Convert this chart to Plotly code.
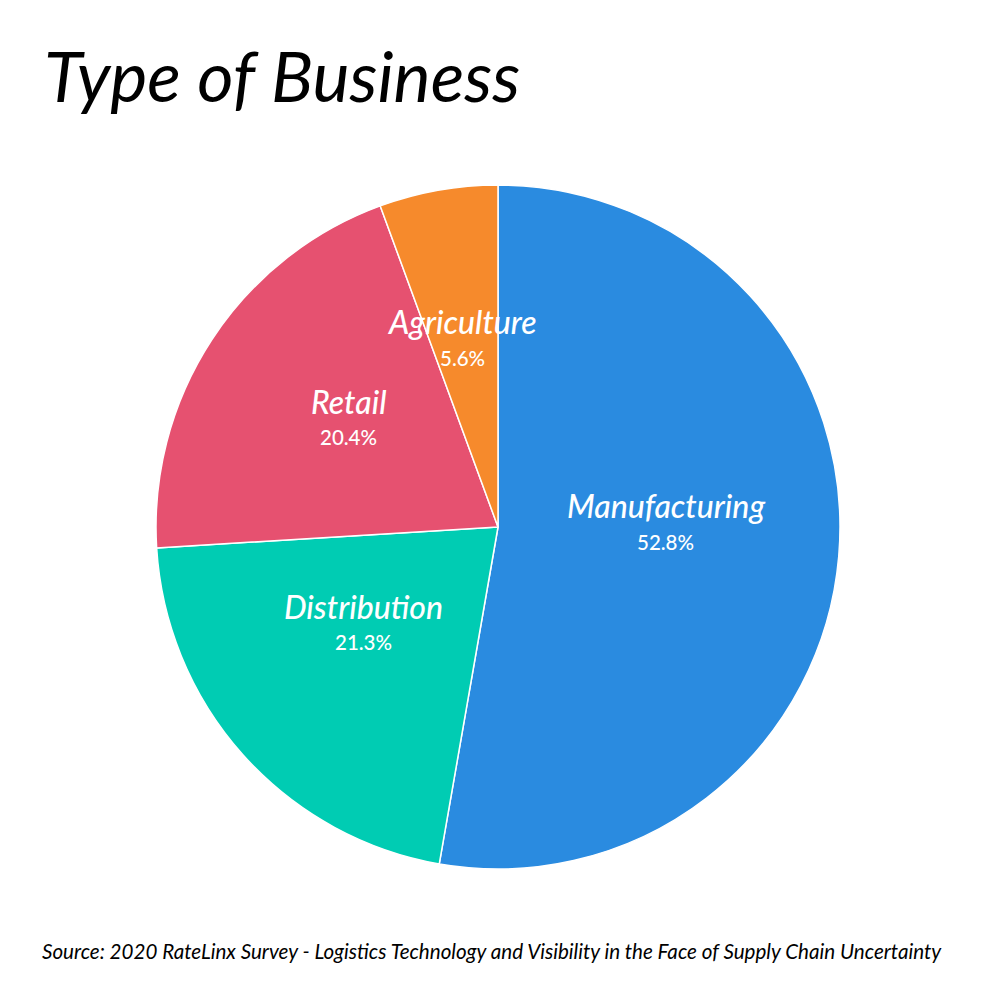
import math
import plotly.graph_objects as go

categories = ["Manufacturing", "Distribution", "Retail", "Agriculture"]
values = [52.8, 21.3, 20.4, 5.6]
colors = ["#2A8BE0", "#00CCB3", "#E65170", "#F68A2C"]

title_text = "Type of Business"
source_text = ("Source: 2020 RateLinx Survey - Logistics Technology and Visibility "
               "in the Face of Supply Chain Uncertainty")

# pie domain (paper coords)
dom_x = [0.156, 0.840]
dom_y = [0.131, 0.815]
W = H = 1000

fig = go.Figure(go.Pie(
    labels=categories,
    values=values,
    sort=False,
    direction="clockwise",
    rotation=0,
    marker=dict(colors=colors, line=dict(color="white", width=1.5)),
    textinfo="none",
    hoverinfo="label+value",
    showlegend=False,
    domain=dict(x=dom_x, y=dom_y),
))

# label positions derived from the data (mid-angle of each slice, small nudges)
cx = (dom_x[0] + dom_x[1]) / 2
cy = (dom_y[0] + dom_y[1]) / 2
R = (dom_x[1] - dom_x[0]) / 2
total = sum(values)
label_r = [0.491, 0.485, 0.539, 0.558]
label_dang = [-6.0, 6.0, 2.6, -0.8]
ann = []
cum = 0.0
for name, v, lr, da in zip(categories, values, label_r, label_dang):
    mid = (cum + v / 2) / total * 2 * math.pi + math.radians(da)
    cum += v
    x = cx + lr * R * math.sin(mid)
    y = cy + lr * R * math.cos(mid)
    ann.append(dict(x=x, y=y, xref="paper", yref="paper", text=f"<i>{name}</i>",
                    showarrow=False, xanchor="center", yanchor="middle", yshift=18,
                    font=dict(family="Lato", size=32, color="white", weight=500)))
    ann.append(dict(x=x, y=y, xref="paper", yref="paper", text=f"{v:.1f}%",
                    showarrow=False, xanchor="center", yanchor="middle", yshift=-18,
                    font=dict(family="Lato", size=20.5, color="white", weight=500)))

ann.append(dict(x=0.042, y=0.925, xref="paper", yref="paper", text=f"<i>{title_text}</i>",
                showarrow=False, xanchor="left", yanchor="middle",
                font=dict(family="Lato", size=70, color="black")))
ann.append(dict(x=0.040, y=0.049, xref="paper", yref="paper", text=f"<i>{source_text}</i>",
                showarrow=False, xanchor="left", yanchor="middle",
                font=dict(family="Lato", size=20.6, color="black")))

fig.update_layout(
    width=W, height=H,
    margin=dict(l=0, r=0, t=0, b=0),
    paper_bgcolor="white",
    plot_bgcolor="white",
    annotations=ann,
)

fig.write_html("out.html")
